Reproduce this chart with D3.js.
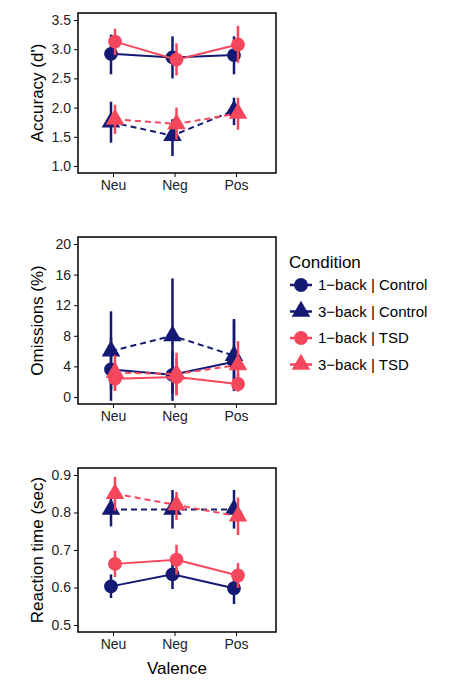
<!DOCTYPE html>
<html><head><meta charset="utf-8">
<script src="https://cdn.jsdelivr.net/npm/d3@7"></script>
<style>body{margin:0;background:#fff}text{font-family:"Liberation Sans",Arial,sans-serif}</style>
</head><body><div id="chart"></div>
<script>
const valence = ["Neu", "Neg", "Pos"];
const seriesNames = ["1\u2212back | Control", "3\u2212back | Control", "1\u2212back | TSD", "3\u2212back | TSD"];

// mean, low, high per valence, per series
const accuracy = [
  [[2.92, 2.57, 3.25], [2.86, 2.50, 3.22], [2.90, 2.57, 3.22]],
  [[1.75, 1.40, 2.10], [1.52, 1.17, 1.80], [1.95, 1.70, 2.17]],
  [[3.13, 2.90, 3.35], [2.82, 2.55, 3.10], [3.08, 2.77, 3.40]],
  [[1.80, 1.55, 2.05], [1.72, 1.45, 2.00], [1.90, 1.62, 2.17]]
];
const omissions = [
  [[3.6, -0.5, 7.8], [2.9, -0.5, 6.0], [4.6, 0.8, 10.0]],
  [[6.0, 1.0, 11.2], [8.0, 0.5, 15.5], [5.4, 1.0, 10.2]],
  [[2.4, 0.8, 4.5], [2.6, 0.3, 5.0], [1.7, 0.7, 3.0]],
  [[3.2, 0.8, 5.5], [3.0, 0.2, 5.8], [4.2, 1.0, 7.3]]
];
const reactionTime = [
  [[0.603, 0.572, 0.635], [0.635, 0.596, 0.675], [0.598, 0.556, 0.640]],
  [[0.808, 0.763, 0.853], [0.808, 0.757, 0.860], [0.808, 0.757, 0.860]],
  [[0.663, 0.628, 0.698], [0.674, 0.634, 0.714], [0.632, 0.599, 0.665]],
  [[0.850, 0.805, 0.895], [0.820, 0.780, 0.855], [0.790, 0.740, 0.840]]
];
const accTicks = [1.0, 1.5, 2.0, 2.5, 3.0, 3.5];
const omiTicks = [0, 4, 8, 12, 16, 20];
const rtTicks = [0.5, 0.6, 0.7, 0.8, 0.9];

const navy = "#141a73", red = "#f5475c";
const colors = [navy, navy, red, red];
const shapes = [d3.symbolCircle, d3.symbolTriangle, d3.symbolCircle, d3.symbolTriangle];
const dashes = [null, "6,4", null, "6,4"];
const dodge = [-2, -2, 2, 2];

const svg = d3.select("#chart").append("svg").attr("width", 474).attr("height", 698);

const x = d3.scalePoint().domain(valence).range([113, 236]);

function panel(top, bottom, domain, ticks, fmt, data, label) {
  const y = d3.scaleLinear().domain(domain).range([bottom - 7, top + 7]);
  const g = svg.append("g");
  g.append("rect").attr("x", 78).attr("y", top).attr("width", 198).attr("height", bottom - top)
    .attr("fill", "none").attr("stroke", "#000").attr("stroke-width", 1.5);
  g.append("g").attr("transform", "translate(78,0)")
    .call(d3.axisLeft(y).tickValues(ticks).tickFormat(fmt).tickSize(4))
    .call(a => a.select(".domain").remove())
    .call(a => a.selectAll("text").attr("font-size", 14).attr("fill", "#222"));
  g.append("g").attr("transform", `translate(0,${bottom})`)
    .call(d3.axisBottom(x).tickSize(4))
    .call(a => a.select(".domain").remove())
    .call(a => a.selectAll("text").attr("font-size", 14).attr("fill", "#222"));
  g.append("text").attr("transform", `translate(43,${(top + bottom) / 2}) rotate(-90)`)
    .attr("text-anchor", "middle").attr("font-size", 17).text(label);

  const clip = "clip" + top;
  g.append("clipPath").attr("id", clip).append("rect")
    .attr("x", 78).attr("y", top).attr("width", 198).attr("height", bottom - top);
  const inner = g.append("g").attr("clip-path", `url(#${clip})`);
  const line = d3.line().x((d, i) => x(valence[i])).y(d => y(d[0]));
  [1, 0, 3, 2].forEach(s => {
    const sg = inner.append("g");
    sg.append("path").datum(data[s]).attr("transform", `translate(${dodge[s]},0)`)
      .attr("d", line).attr("fill", "none").attr("stroke", colors[s]).attr("stroke-width", 2)
      .attr("stroke-dasharray", dashes[s]);
    sg.selectAll("line.err").data(data[s]).join("line")
      .attr("x1", (d, i) => x(valence[i]) + dodge[s]).attr("x2", (d, i) => x(valence[i]) + dodge[s])
      .attr("y1", d => y(d[1])).attr("y2", d => y(d[2]))
      .attr("stroke", colors[s]).attr("stroke-width", 2.5);
    sg.selectAll("path.pt").data(data[s]).join("path")
      .attr("transform", (d, i) => `translate(${x(valence[i]) + dodge[s]},${y(d[0])})`)
      .attr("d", d3.symbol(shapes[s], 150)).attr("fill", colors[s]);
  });
}

panel(13, 173, [1.0, 3.5], accTicks, d3.format(".1f"), accuracy, "Accuracy (d')");
panel(237, 404, [0, 20], omiTicks, d3.format("d"), omissions, "Omissions (%)");
panel(468, 632, [0.5, 0.9], rtTicks, d3.format(".1f"), reactionTime, "Reaction time (sec)");

svg.append("text").attr("x", 177).attr("y", 674).attr("text-anchor", "middle")
  .attr("font-size", 17).text("Valence");

const lg = svg.append("g");
lg.append("text").attr("x", 289).attr("y", 268).attr("font-size", 17).text("Condition");
seriesNames.forEach((n, i) => {
  const yy = 285 + i * 26.5;
  lg.append("line").attr("x1", 290).attr("x2", 312).attr("y1", yy).attr("y2", yy)
    .attr("stroke", colors[i]).attr("stroke-width", 2.5);
  lg.append("path").attr("transform", `translate(301,${yy})`)
    .attr("d", d3.symbol(shapes[i], 150)).attr("fill", colors[i]);
  lg.append("text").attr("x", 318).attr("y", yy + 5).attr("font-size", 15).text(n);
});
</script></body></html>
